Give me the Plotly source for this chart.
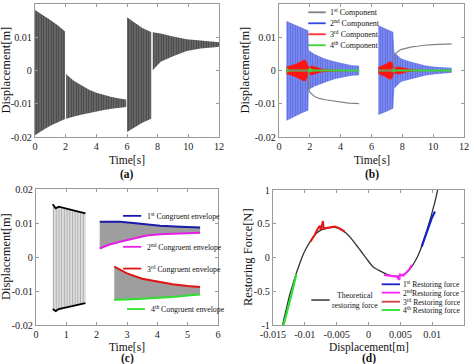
import plotly.graph_objects as go

# ---------------- Panel (a): measured displacement (envelopes of the dense oscillation)
A_T1 = [0.0, 0.5, 1.0, 1.5, 1.96]
A_UP1 = [0.0182, 0.0168, 0.0152, 0.0135, 0.0117]
A_LO1 = [-0.0195, -0.0180, -0.0166, -0.0155, -0.0146]
A_T2 = [2.03, 2.06, 2.5, 3.0, 3.5, 4.0, 4.5, 5.0, 5.5, 5.95]
A_UP2 = [-0.0008, -0.0012, -0.0030, -0.0044, -0.0057, -0.0067, -0.0074, -0.0080, -0.0084, -0.0087]
A_LO2 = [-0.0145, -0.0145, -0.0139, -0.0133, -0.0128, -0.0123, -0.0119, -0.0115, -0.0112, -0.0110]
A_T3 = [6.0, 6.5, 7.0, 7.58]
A_UP3 = [0.0160, 0.0143, 0.0128, 0.0116]
A_LO3 = [-0.0185, -0.0170, -0.0157, -0.0145]
A_T4 = [7.68, 8.2, 9.0, 9.9, 10.8, 11.9, 12.0]
A_UP4 = [0.0115, 0.0111, 0.0102, 0.0094, 0.0090, 0.0085, 0.0085]
A_LO4 = [0.0001, 0.0026, 0.0043, 0.0059, 0.0066, 0.0071, 0.0072]

# ---------------- Panel (b): components
B1_T1 = [0.5, 1.0, 1.5, 1.9, 1.92, 2.0, 2.3, 2.6, 3.0, 3.5, 4.0, 4.5, 5.0, 5.2]
B1_Y1 = [0, 0, 0, 0, -0.0055, -0.0065, -0.0078, -0.0084, -0.0088, -0.0092, -0.0096, -0.0098, -0.0099, -0.0100]
B1_T2 = [6.45, 7.0, 7.45, 7.47, 7.6, 7.9, 8.3, 8.6, 9.0, 9.4, 10.0, 10.5, 11.2]
B1_Y2 = [0, 0, 0, 0.0045, 0.0053, 0.0063, 0.0068, 0.0071, 0.0073, 0.0076, 0.0078, 0.0079, 0.0080]

B2_T1 = [0.48, 1.0, 1.5, 1.9, 1.93, 2.3, 2.8, 3.2, 3.7, 4.2, 4.7, 5.2]
B2_UP1 = [0.0149, 0.0139, 0.0129, 0.0120, 0.0061, 0.0050, 0.0039, 0.0032, 0.0026, 0.0020, 0.0016, 0.0014]
B2_LO1 = [-0.0151, -0.0139, -0.0128, -0.0120, -0.0058, -0.0048, -0.0039, -0.0032, -0.0025, -0.0020, -0.0016, -0.0014]
B2_T2 = [6.44, 7.0, 7.41, 7.48, 7.92, 8.5, 9.0, 9.5, 10.1, 10.6, 11.2]
B2_UP2 = [0.0136, 0.0125, 0.0116, 0.0055, 0.0036, 0.0027, 0.0021, 0.0015, 0.0011, 0.0009, 0.0008]
B2_LO2 = [-0.0134, -0.0123, -0.0114, -0.0054, -0.0034, -0.0026, -0.0021, -0.0015, -0.0011, -0.0009, -0.0007]

B3_T1 = [0.48, 0.8, 1.1, 1.4, 1.6, 1.75, 1.9, 1.95, 2.1, 2.4, 2.8, 3.2, 4.0, 5.2]
B3_A1 = [0.0011, 0.0015, 0.0020, 0.0027, 0.0032, 0.0031, 0.0015, 0.0008, 0.0015, 0.0010, 0.0005, 0.0003, 0.0002, 0.0001]
B3_T2 = [6.44, 6.7, 7.0, 7.2, 7.35, 7.45, 7.5, 7.7, 8.0, 8.3, 8.7, 9.5, 11.2]
B3_A2 = [0.0010, 0.0015, 0.0022, 0.0028, 0.0024, 0.0010, 0.0007, 0.0012, 0.0009, 0.0005, 0.0003, 0.0001, 0.0001]

B4_T1 = [0.48, 0.52, 0.58, 0.65, 1.85, 1.95, 2.0, 2.08, 2.2, 5.2]
B4_A1 = [0.0007, 0.0008, 0.0006, 0.0003, 0.0003, 0.0007, 0.0008, 0.0006, 0.0003, 0.0003]
B4_T2 = [6.44, 7.3, 7.38, 7.42, 7.5, 7.6, 11.2]
B4_A2 = [0.0003, 0.0003, 0.0006, 0.0007, 0.0005, 0.0003, 0.0003]

# ---------------- Panel (c): congruent envelopes
C_T1 = [0.55, 0.6, 0.65, 0.75, 0.9, 1.1, 1.3, 1.63]
C_UP1 = [0.0155, 0.0150, 0.0143, 0.0148, 0.0145, 0.0141, 0.0136, 0.0128]
C_LO1 = [-0.0153, -0.0157, -0.0159, -0.0153, -0.0150, -0.0147, -0.0143, -0.0136]
C_T2 = [2.1, 2.4, 2.77, 3.21, 3.65, 4.09, 4.75, 5.41]
C_ENV1 = [0.0104, 0.0104, 0.0104, 0.0100, 0.0096, 0.0092, 0.0089, 0.0087]
C_ENV2 = [0.0025, 0.0036, 0.0045, 0.0055, 0.0063, 0.0067, 0.0070, 0.0071]
C_T3 = [2.58, 2.8, 3.0, 3.5, 4.0, 4.5, 5.0, 5.41]
C_ENV3 = [-0.0028, -0.0038, -0.0048, -0.0064, -0.0073, -0.0080, -0.0085, -0.0088]
C_ENV4 = [-0.0126, -0.0126, -0.0125, -0.0123, -0.0121, -0.0118, -0.0113, -0.0110]

# ---------------- Panel (d): restoring force
D_X_THEO = [-0.01360, -0.01343, -0.01290, -0.01238, -0.01186, -0.01134, -0.01080, -0.01029, -0.00976,
            -0.00924, -0.00872, -0.00820, -0.00740, -0.00663, -0.00585, -0.00505, -0.00427, -0.00349,
            -0.00270, -0.00192, -0.00113, -0.00035, 0.00071, 0.00150, 0.00233, 0.00310, 0.00390,
            0.00440, 0.00495, 0.00560, 0.00625, 0.00690, 0.00757, 0.00810, 0.00860, 0.00913,
            0.00966, 0.01005, 0.01044, 0.01090]
D_Y_THEO = [-1.06, -0.975, -0.76, -0.556, -0.39, -0.234, -0.09, 0.037, 0.14, 0.225, 0.297, 0.358,
            0.41, 0.432, 0.445, 0.442, 0.41, 0.358, 0.28, 0.185, 0.085, -0.012, -0.136, -0.184,
            -0.225, -0.258, -0.274, -0.278, -0.272, -0.245, -0.200, -0.120, -0.012, 0.100, 0.234,
            0.390, 0.556, 0.690, 0.827, 1.02]
D_X1 = [0.00835, 0.00914, 0.00992, 0.01044]
D_Y1 = [0.16, 0.382, 0.58, 0.68]
D_X2 = [0.00241, 0.00364, 0.00443, 0.00485, 0.00495, 0.00547, 0.00652, 0.00678]
D_Y2 = [-0.258, -0.27, -0.284, -0.333, -0.25, -0.27, -0.16, -0.11]
D_X3 = [-0.00913, -0.00846, -0.00793, -0.00767, -0.00750, -0.00715, -0.00705, -0.00636, -0.00531, -0.00452, -0.00373]
D_Y3 = [0.234, 0.333, 0.432, 0.471, 0.41, 0.54, 0.43, 0.442, 0.457, 0.432, 0.383]
D_X4 = [-0.01340, -0.01264, -0.01212, -0.01134]
D_Y4 = [-1.02, -0.753, -0.556, -0.249]

FONT = "Liberation Serif"
fig = go.Figure()


def band(t, up, lo, xa, ya, color=None, pattern=None):
    x = list(t) + list(t)[::-1]
    y = list(up) + list(lo)[::-1]
    kw = dict(fill="toself", mode="lines", line=dict(width=0), hoverinfo="skip", showlegend=False,
              xaxis=xa, yaxis=ya)
    if pattern:
        kw["fillpattern"] = pattern
        kw["fillcolor"] = pattern["bgcolor"]
    else:
        kw["fillcolor"] = color
    fig.add_trace(go.Scatter(x=x, y=y, **kw))


def line(x, y, xa, ya, color, width, shape="linear"):
    fig.add_trace(go.Scatter(x=x, y=y, mode="lines", line=dict(color=color, width=width, shape=shape),
                             xaxis=xa, yaxis=ya, showlegend=False, hoverinfo="skip"))


# (a)
pat_a = dict(shape="|", fgcolor="#121212", bgcolor="#737373", size=2.5, solidity=0.5)
for t, u, l in [(A_T1, A_UP1, A_LO1), (A_T2, A_UP2, A_LO2), (A_T3, A_UP3, A_LO3), (A_T4, A_UP4, A_LO4)]:
    band(t, u, l, "x", "y", pattern=pat_a)

# (b)
pat_b = dict(shape="|", fgcolor="#2336d8", bgcolor="#8c9af0", size=2.5, solidity=0.55)
band(B2_T1, B2_UP1, B2_LO1, "x2", "y2", pattern=pat_b)
band(B2_T2, B2_UP2, B2_LO2, "x2", "y2", pattern=pat_b)
for t, a in [(B3_T1, B3_A1), (B3_T2, B3_A2)]:
    band(t, a, [-v for v in a], "x2", "y2", color="#ff1414")
for t, a in [(B4_T1, B4_A1), (B4_T2, B4_A2)]:
    band(t, a, [-v for v in a], "x2", "y2", color="#3ad43a")
line(B1_T1, B1_Y1, "x2", "y2", "#808080", 1.2)
line(B1_T2, B1_Y2, "x2", "y2", "#808080", 1.2)

# (c)
pat_c1 = dict(shape="|", fgcolor="#6a6a6a", bgcolor="#f2f2f2", size=2.7, solidity=0.55)
pat_c2 = dict(shape="|", fgcolor="#5a5a5a", bgcolor="#b4b4b4", size=2, solidity=0.5)
band(C_T1, C_UP1, C_LO1, "x3", "y3", pattern=pat_c1)
band(C_T2, C_ENV1, C_ENV2, "x3", "y3", pattern=pat_c2)
band(C_T3, C_ENV3, C_ENV4, "x3", "y3", pattern=pat_c2)
line(C_T1, C_UP1, "x3", "y3", "#000000", 1.8)
line(C_T1, C_LO1, "x3", "y3", "#000000", 1.8)
line(C_T2, C_ENV1, "x3", "y3", "#1a1aa8", 2)
line(C_T2, C_ENV2, "x3", "y3", "#e61ee6", 2)
line(C_T3, C_ENV3, "x3", "y3", "#e01414", 2)
line(C_T3, C_ENV4, "x3", "y3", "#2ee02e", 2)

# (d)
line(D_X_THEO, D_Y_THEO, "x4", "y4", "#333333", 1.3, "spline")
line(D_X1, D_Y1, "x4", "y4", "#1424c8", 2.2)
line(D_X2, D_Y2, "x4", "y4", "#ff22ff", 2)
line(D_X3, D_Y3, "x4", "y4", "#e01818", 2)
line(D_X4, D_Y4, "x4", "y4", "#2ee02e", 2.2)

W, H = 474, 364


def px(x):
    return x / W


def py(y):
    return 1 - y / H


ax_common = dict(showline=True, linecolor="#9a9a9a", linewidth=1, mirror="ticks", ticks="inside",
                 ticklen=3, tickcolor="#9a9a9a", showgrid=False, zeroline=False, automargin=False,
                 tickfont=dict(family=FONT, size=10.2, color="#222"))
ylab = ["-0.02", "-0.01", "0", "0.01", "0.02"]
yval = [-0.02, -0.01, 0, 0.01, 0.02]
fig.update_layout(
    width=W, height=H, margin=dict(l=0, r=0, t=0, b=0), paper_bgcolor="white", plot_bgcolor="white",
    showlegend=False,
    xaxis=dict(domain=[px(35), px(219)], range=[0, 12], anchor="y", tickvals=list(range(0, 13, 2)), **ax_common),
    yaxis=dict(domain=[py(137), py(4)], range=[-0.02, 0.02], anchor="x", tickvals=yval, ticktext=ylab, **ax_common),
    xaxis2=dict(domain=[px(279), px(464)], range=[0, 12], anchor="y2", tickvals=list(range(0, 13, 2)), **ax_common),
    yaxis2=dict(domain=[py(137), py(4)], range=[-0.02, 0.02], anchor="x2", tickvals=yval, ticktext=ylab, **ax_common),
    xaxis3=dict(domain=[px(36), px(218)], range=[0, 6], anchor="y3", tickvals=list(range(0, 7)), **ax_common),
    yaxis3=dict(domain=[py(325), py(189)], range=[-0.02, 0.02], anchor="x3", tickvals=yval, ticktext=ylab, **ax_common),
    xaxis4=dict(domain=[px(273), px(464)], range=[-0.015, 0.015], anchor="y4",
                tickvals=[-0.015, -0.01, -0.005, 0, 0.005, 0.01, 0.015],
                ticktext=["-0.015", "-0.01", "-0.005", "0", "0.005", "0.01", "0.015"], **ax_common),
    yaxis4=dict(domain=[py(325), py(190)], range=[-1, 1], anchor="x4", tickvals=[-1, -0.5, 0, 0.5, 1],
                ticktext=["-1", "-0.5", "0", "0.5", "1"], **ax_common),
)

ann = []


def text(x, y, s, size=11, bold=False, angle=0, xanchor="center"):
    if bold:
        s = "<b>" + s + "</b>"
    ann.append(dict(x=px(x), y=py(y), xref="paper", yref="paper", text=s, showarrow=False, textangle=angle,
                    xanchor=xanchor, yanchor="middle", font=dict(family=FONT, size=size, color="#111")))


# titles
text(127, 160, "Time[s]", 11.5)
text(127, 174, "(a)", 11.5, bold=True)
text(371.5, 160, "Time[s]", 11.5)
text(371.5, 174, "(b)", 11.5, bold=True)
text(127, 347, "Time[s]", 11.5)
text(127, 358, "(c)", 11.5, bold=True)
text(368.5, 347, "Displacement[m]", 11.5)
text(368.5, 358, "(d)", 11.5, bold=True)
text(6, 70.5, "Displacement[m]", 12.5, angle=-90)
text(245, 70.5, "Displacement[m]", 12.5, angle=-90)
text(6, 257, "Displacement[m]", 12.5, angle=-90)
text(248, 257, "Restoring Force[N]", 12.5, angle=-90)

shapes = []


def legend_item(xref, yref, x0, x1, y, color, label, xt, size=8):
    shapes.append(dict(type="line", xref=xref, yref=yref, x0=x0, x1=x1, y0=y, y1=y,
                       line=dict(color=color, width=1.8)))
    ann.append(dict(x=xt, y=y, xref=xref, yref=yref, text=label, showarrow=False, xanchor="left",
                    yanchor="middle", font=dict(family=FONT, size=size, color="#111")))


# legend (b)
for yv, col, lab in [(0.0175, "#808080", "1<sup>st</sup> Component"), (0.0142, "#3445e0", "2<sup>nd</sup> Component"),
                     (0.0109, "#ff3030", "3<sup>rd</sup> Component"), (0.0076, "#3ad43a", "4<sup>th</sup> Component")]:
    legend_item("x2", "y2", 1.9, 3.03, yv, col, lab, 3.2)

# legend (c)
legend_item("x3", "y3", 2.87, 3.47, 0.0121, "#1a1aa8", "1<sup>st</sup> Congruent envelope", 3.6, 7.8)
legend_item("x3", "y3", 2.87, 3.47, 0.0030, "#e61ee6", "2<sup>nd</sup> Congruent envelope", 3.6, 7.8)
legend_item("x3", "y3", 2.87, 3.47, -0.0034, "#e01414", "3<sup>rd</sup> Congruent envelope", 3.6, 7.8)
legend_item("x3", "y3", 3.0, 3.59, -0.0153, "#2ee02e", "4<sup>th</sup> Congruent envelope", 3.72, 7.8)

# legend (d)
for yv, col, lab in [(-0.397, "#1424c8", "1<sup>st</sup> Restoring force"), (-0.521, "#ff22ff", "2<sup>nd</sup>Restoring force"),
                     (-0.655, "#d04040", "3<sup>rd</sup> Restoring force"), (-0.778, "#2ee02e", "4<sup>th</sup> Restoring force")]:
    legend_item("x4", "y4", 0.00207, 0.00495, yv, col, lab, 0.0051, 7.6)
shapes.append(dict(type="line", xref="x4", yref="y4", x0=-0.00898, x1=-0.0061, y0=-0.63, y1=-0.63,
                   line=dict(color="#333333", width=1.5)))
ann.append(dict(x=-0.00217, y=-0.63, xref="x4", yref="y4", text="Theoretical<br>restoring force", showarrow=False,
                xanchor="center", yanchor="middle", align="center",
                font=dict(family=FONT, size=7.8, color="#111")))

fig.update_layout(annotations=ann, shapes=shapes)
fig.write_html("out.html", config={"displayModeBar": False},
               post_script="document.body.style.margin='0';document.body.style.padding='0';")
